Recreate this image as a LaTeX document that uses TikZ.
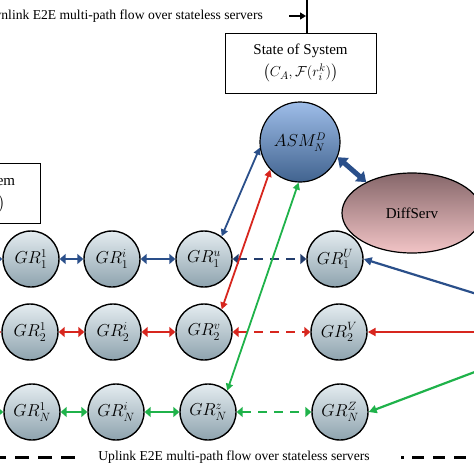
\documentclass[tikz,border=0pt]{standalone}
\usepackage{amsmath, amssymb}
\usepackage{fontspec}
\setmainfont{Liberation Serif}
\usepackage{tikz}
\usetikzlibrary{shapes.geometric}
\usetikzlibrary{arrows.meta}
\definecolor{linkblue}{HTML}{2A4F8A}
\definecolor{linknavy}{HTML}{223C6C}
\definecolor{linkred}{HTML}{D7261E}
\definecolor{linkgreen}{HTML}{1FB24A}
\definecolor{grtop}{HTML}{E4ECF0}
\definecolor{grbot}{HTML}{8EA3AE}
\definecolor{asmtop}{HTML}{9EBDE8}
\definecolor{asmbot}{HTML}{41638F}
\definecolor{dstop}{HTML}{86676A}
\definecolor{dsbot}{HTML}{F2C4C6}

\begin{document}
\begin{tikzpicture}[x=1pt, y=-1pt,
	gr/.style={circle, draw, line width=1.4pt, minimum size=56pt, inner sep=0pt,
		top color=grtop, bottom color=grbot, font=\fontsize{17}{17}\selectfont},
	statebox/.style={draw, line width=1pt, minimum height=60pt,
		align=center, font=\fontsize{15}{18}\selectfont},
	rowlink/.style={line width=2.8pt, {Triangle[length=6pt, width=10pt]}-{Triangle[length=6pt, width=10pt]}},
	rowdash/.style={rowlink, dash pattern=on 9pt off 7pt},
	upline/.style={line width=1.8pt, {Triangle[length=7pt, width=7pt]}-{Triangle[length=7pt, width=7pt]}},
	inline/.style={line width=2.2pt, -{Triangle[length=8pt, width=8pt]}}]
	\useasboundingbox (0,0) rectangle (474,474);

	% legend texts
	\node [anchor=east, inner sep=0pt, font=\fontsize{13.6}{15}\selectfont] (downtxt) at (263,16) {Downlink E2E multi-path flow over stateless servers};
	\coordinate (arrtail) at (289,16);
	\coordinate (arrtip) at (306,16);
	\draw [line width=1.4pt, -{Triangle[length=6pt, width=7pt]}] (arrtail) -- (arrtip);
	\node [font=\fontsize{13.6}{15}\selectfont] (uptxt) at (234,457) {Uplink E2E multi-path flow over stateless servers};
	\coordinate (dashR) at (75,457);
	\coordinate (dashL) at (-10,457);
	\draw [line width=3pt, dash pattern=on 14pt off 9pt] (dashR) -- (dashL);
	\coordinate (dotL) at (401,457);
	\coordinate (dotR) at (480,457);
	\draw [line width=3pt, dash pattern=on 3pt off 8pt on 12pt off 9pt on 12pt off 9pt on 12pt off 9pt] (dotL) -- (dotR);

	% state of system
	\node [statebox, minimum width=151pt] (state) at (300.5,63) {State of System\\[4pt] $\big(C_A,\mathcal{F}(r_i^k)\big)$};
	\node [statebox, minimum width=144pt] (stateL) at (-32,193.5) {State of System\\[4pt] $\big(C_A,\mathcal{F}(r_i^k)\big)$};
	\coordinate (topin) at (307,-5);
	\draw [line width=1.2pt] (topin) -- (topin |- state.north);

	% ASM and DiffServ
	\node [circle, draw, line width=1.2pt, minimum size=80pt, inner sep=0pt,
		top color=asmtop, bottom color=asmbot, font=\fontsize{16}{16}\selectfont] (asm) at (300,142) {$ASM_N^D$};
	\node [ellipse, draw, line width=1.2pt, minimum width=140pt, minimum height=80pt,
		top color=dstop, bottom color=dsbot, font=\fontsize{15}{15}\selectfont] (diff) at (412,213) {DiffServ};
	\draw [line width=5pt, color=linkblue, {Triangle[length=9pt, width=13pt]}-{Triangle[length=9pt, width=13pt]}] (asm.-22) -- (diff.146);

	% gateway routers
	\node [gr] (gr11) at (31,259) {$GR_1^1$};
	\node [gr] (gr1i) at (112,259) {$GR_1^i$};
	\node [gr] (gr1u) at (204,259) {$GR_1^u$};
	\node [gr] (gr1U) at (335,259) {$GR_1^U$};
	\node [gr] (gr21) at (30,332) {$GR_2^1$};
	\node [gr] (gr2i) at (113,332) {$GR_2^i$};
	\node [gr] (gr2v) at (204,332) {$GR_2^v$};
	\node [gr] (gr2V) at (339,332) {$GR_2^V$};
	\node [gr] (grN1) at (32,412) {$GR_N^1$};
	\node [gr] (grNi) at (116,412) {$GR_N^i$};
	\node [gr] (grNz) at (208,412) {$GR_N^z$};
	\node [gr] (grNZ) at (340,412) {$GR_N^Z$};

	% row links
	\coordinate (left1) at (-25,259);
	\coordinate (left2) at (-25,332);
	\coordinate (leftN) at (-25,412);
	\draw [rowlink, color=linkblue] (left1) -- (gr11);
	\draw [rowlink, color=linkblue] (gr11) -- (gr1i);
	\draw [rowlink, color=linkblue] (gr1i) -- (gr1u);
	\draw [rowdash, color=linknavy] (gr1u) -- (gr1U);
	\draw [rowlink, color=linkred] (left2) -- (gr21);
	\draw [rowlink, color=linkred] (gr21) -- (gr2i);
	\draw [rowlink, color=linkred] (gr2i) -- (gr2v);
	\draw [rowdash, color=linkred] (gr2v) -- (gr2V);
	\draw [rowlink, color=linkgreen] (leftN) -- (grN1);
	\draw [rowlink, color=linkgreen] (grN1) -- (grNi);
	\draw [rowlink, color=linkgreen] (grNi) -- (grNz);
	\draw [rowdash, color=linkgreen] (grNz) -- (grNZ);

	% links to the ASM
	\draw [upline, color=linkblue] (asm.188) -- (gr1u.52);
	\draw [upline, color=linkred] (asm.223) -- (gr2v.52);
	\draw [upline, color=linkgreen] (asm.268) -- (grNz.48);

	% uplink flows from the right
	\coordinate (right1) at (480,295);
	\coordinate (right2) at (480,332);
	\coordinate (rightN) at (480,370);
	\draw [inline, color=linkblue] (right1) -- (gr1U.east);
	\draw [inline, color=linkred] (right2) -- (gr2V.east);
	\draw [inline, color=linkgreen] (rightN) -- (grNZ.east);
\end{tikzpicture}
\end{document}
